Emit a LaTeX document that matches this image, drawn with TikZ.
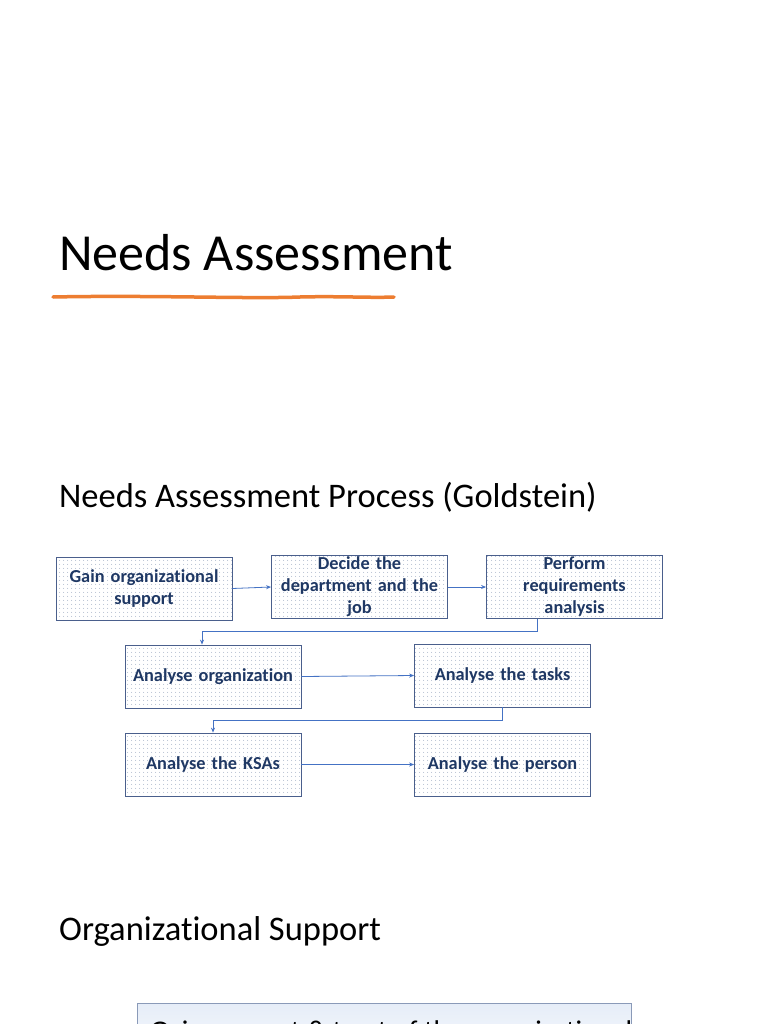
\documentclass[tikz,border=0pt]{standalone}
\usepackage{fontspec}
\setmainfont{Carlito}[Ligatures=NoCommon]
\usetikzlibrary{patterns.meta,arrows.meta}
\definecolor{boxline}{HTML}{4A5F8C}
\definecolor{boxtext}{HTML}{1F3864}
\definecolor{dotc}{HTML}{8E9DB8}
\definecolor{conn}{HTML}{4472C4}
\definecolor{orng}{HTML}{ED7D31}
\definecolor{botfill}{HTML}{E6EDF8}
\definecolor{botline}{HTML}{8A9AB8}
\tikzset{
  pbox/.style={draw=boxline, line width=0.8pt, preaction={fill=white},
    pattern={Dots[distance=4pt, radius=0.55pt]}, pattern color=dotc,
    text=boxtext, font=\fontsize{18.3}{22}\selectfont\bfseries, align=center,
    minimum width=176pt, minimum height=63pt, inner sep=1pt, text width=174pt},
  conline/.style={draw=conn, line width=0.8pt, -{Stealth[length=5pt,width=4pt]}},
  ttl/.style={anchor=base west, inner sep=0pt, text=black}
}
\begin{document}
\begin{tikzpicture}[x=1pt,y=-1pt]
\useasboundingbox (0,0) rectangle (768,1024);
\fill[white] (0,0) rectangle (768,1024);
% title
\node[ttl, font=\fontsize{52}{60}\selectfont] (title) at (59,270) {Needs Assessment};
\draw[orng, line width=3.5pt, line cap=round] (53,297) .. controls (150,295) and (250,299) .. (300,297) .. controls (340,296) and (370,298) .. (394,297);
% subtitle
\node[ttl, font=\fontsize{34.5}{40}\selectfont] (sub) at (59,507) {Needs Assessment Process (Goldstein)};
% boxes
\node[pbox] (b1) at (144,588.5) {Gain organizational\\support};
\node[pbox] (b2) at (359.5,587) {Decide the\\department and the\\job};
\node[pbox] (b3) at (574.5,587) {Perform\\requirements\\analysis};
\node[pbox] (b4) at (213,676.5) {Analyse organization};
\node[pbox] (b5) at (502.5,675.5) {Analyse the tasks};
\node[pbox] (b6) at (213,764.5) {Analyse the KSAs};
\node[pbox] (b7) at (502.5,764.5) {Analyse the person};
% connectors
\draw[conline] (b1.east) -- (b2.west);
\draw[conline] (b2.east) -- (b3.west);
\coordinate (c3a) at (537,631);
\coordinate (c3b) at (202,631);
\draw[conline] (b3.south -| c3a) -- (c3a) -- (c3b) -- (b4.north -| c3b);
\draw[conline] (b4.east) -- (b5.west);
\coordinate (c5a) at (502,720);
\coordinate (c5b) at (213,720);
\draw[conline] (b5.south -| c5a) -- (c5a) -- (c5b) -- (b6.north -| c5b);
\draw[conline] (b6.east) -- (b7.west);
% second heading
\node[ttl, font=\fontsize{34.5}{40}\selectfont] (org) at (59,940) {Organizational Support};
% bottom box (cut off by page edge)
\node[draw=botline, line width=0.8pt, top color=botfill, bottom color=white,
  minimum width=494pt, minimum height=80pt, anchor=north west, inner sep=0pt] (bb) at (137,1003) {};
\node[anchor=base west, inner sep=0pt, font=\fontsize{28.5}{34}\selectfont, text=black] (bt) at (150,1040) {Gain support \& trust of the organizational};
\end{tikzpicture}
\end{document}
